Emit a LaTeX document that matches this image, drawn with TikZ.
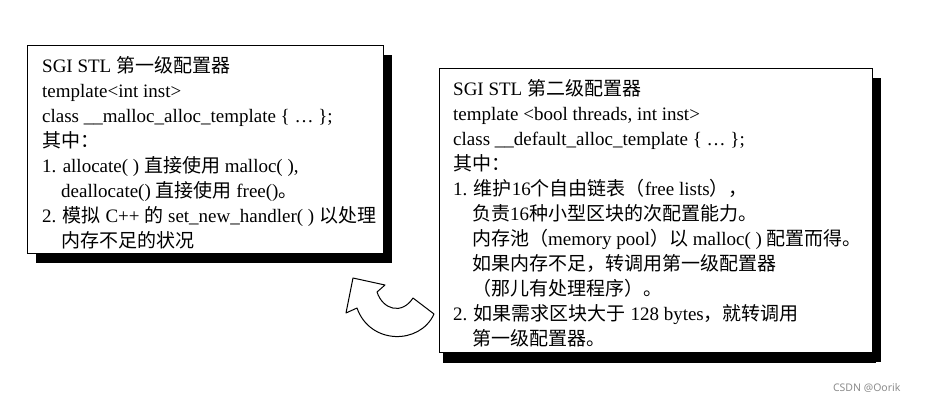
\documentclass[tikz,border=0pt]{standalone}
\usepackage{fontspec}
\setmainfont{Liberation Serif}
\newfontfamily\cjk{Noto Sans CJK SC}
\newfontfamily\marksf{Noto Sans}
\usetikzlibrary{shadows,positioning}
\newcommand{\zh}[1]{{\cjk #1}}
\newcommand{\ind}{\hspace*{19pt}}

\begin{document}
\begin{tikzpicture}[x=1pt,y=-1pt,
  box/.style={rectangle, draw, line width=1pt, fill=white, anchor=north west,
              drop shadow={shadow xshift=8pt, shadow yshift=-9pt, fill=black, opacity=1}},
  txt/.style={align=left, anchor=north west, inner sep=0pt,
              font=\fontsize{19}{25}\selectfont}]

  \useasboundingbox (0,0) rectangle (929,400);

  % first level allocator
  \node[box, minimum width=356pt, minimum height=208pt] (first) at (27,45) {};
  \node[txt] (firsttext) at ([xshift=15pt, yshift=-11pt]first.north west) {
    SGI STL \zh{第一级配置器}\\
    template<int inst>\\
    class \_\_malloc\_alloc\_template \{ \ldots\ \};\\
    \zh{其中：}\\
    1. allocate( ) \zh{直接使用} malloc( ),\\
    \ind deallocate() \zh{直接使用} free()\zh{。}\\
    2. \zh{模拟} C++ \zh{的} set\_new\_handler( ) \zh{以处理}\\
    \ind\zh{内存不足的状况}
  };

  % second level allocator
  \node[box, minimum width=433pt, minimum height=284pt,
        drop shadow={shadow xshift=3pt, shadow yshift=-10pt, fill=black, opacity=1}] (second) at (439,68) {};
  \node[txt] (secondtext) at ([xshift=14pt, yshift=-11pt]second.north west) {
    SGI STL \zh{第二级配置器}\\
    template <bool threads, int inst>\\
    class \_\_default\_alloc\_template \{ \ldots\ \};\\
    \zh{其中：}\\
    1. \zh{维护}16\zh{个自由链表（}free lists\zh{），}\\
    \ind\zh{负责}16\zh{种小型区块的次配置能力。}\\
    \ind\zh{内存池（}memory pool\zh{）以} malloc( ) \zh{配置而得。}\\
    \ind\zh{如果内存不足，转调用第一级配置器}\\
    \ind\zh{（那儿有处理程序）。}\\
    2. \zh{如果需求区块大于} 128 bytes\zh{，就转调用}\\
    \ind\zh{第一级配置器。}
  };

  % hollow curved arrow
  \draw[line width=1pt, line join=round, fill=white]
    (353,278) -- (385,285) -- (377,292)
    .. controls (383,310) and (402,315) .. (413,298)
    -- (434,314)
    .. controls (420,345) and (370,345) .. (357,308)
    -- (346,313) -- cycle;

  \node[font=\marksf\fontsize{10.5}{12}\selectfont, text=black!45, anchor=east] (mark) at (904,388) {CSDN @Oorik};

\end{tikzpicture}
\end{document}
